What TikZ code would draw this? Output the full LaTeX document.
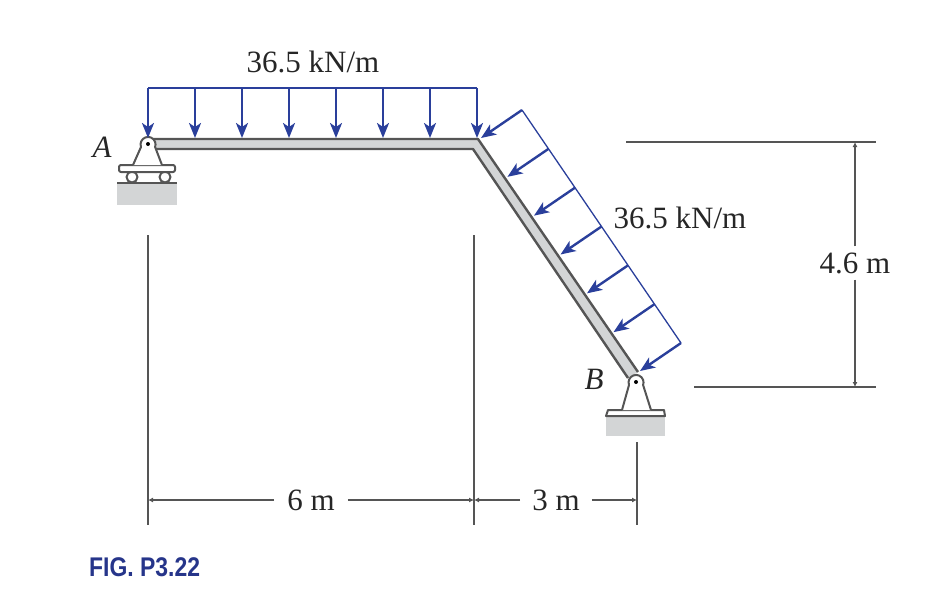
\documentclass[tikz,border=0pt]{standalone}
\usepackage{fontspec}
\setmainfont{Liberation Serif}
\newfontfamily\capfont{Liberation Sans}
\usetikzlibrary{arrows.meta,calc}
\definecolor{loadblue}{HTML}{2A3F9B}
\definecolor{beamgray}{HTML}{D3D5D6}
\definecolor{edgegray}{HTML}{555555}
\definecolor{captionblue}{HTML}{26358A}
\tikzset{
  lbl/.style={text=black!85, font=\fontsize{31}{34}\selectfont, inner sep=0pt},
  ptlbl/.style={lbl, font=\fontsize{31}{34}\selectfont\itshape},
  loadline/.style={draw=loadblue, line width=1.3pt},
  loadarrow/.style={draw=loadblue, line width=2.4pt, -{Stealth[length=15pt,width=12pt,inset=4pt]}},
  dimline/.style={draw=edgegray, line width=1.6pt},
  dimarrow/.style={dimline, -{Latex[length=5pt,width=5pt]}},
  partline/.style={draw=edgegray, line width=2pt, line join=round}
}
\begin{document}
\begin{tikzpicture}[x=1pt, y=-1pt]
    \useasboundingbox (0,0) rectangle (926,606);
    % Beam
    \fill[beamgray] (153,139) -- (478,139) -- (638,372) -- (628,378) -- (473,149) -- (153,149) -- cycle;
    \draw[edgegray, line width=2.4pt, line join=round] (153,139) -- (478,139) -- (638,372);
    \draw[edgegray, line width=2.4pt, line join=round] (153,149) -- (473,149) -- (628,378);
    % Support A
    \fill[beamgray] (117,183) rectangle (177,205);
    \draw[partline] (117,183) -- (177,183);
    \draw[partline, fill=white] (132,177) circle (5.5);
    \draw[partline, fill=white] (165,177) circle (5.5);
    \draw[partline, fill=white, rounded corners=2pt] (119,165) rectangle (175,172);
    \draw[partline, fill=white] (133,165) -- (141,147) arc[start angle=160, end angle=380, radius=7.5] -- (162,165);
    \fill[black] (148,144) circle (2);
    % Support B
    \fill[beamgray] (606,416) rectangle (665,436);
    \draw[partline, fill=white] (606,416) -- (608,410) -- (664,410) -- (665,416) -- cycle;
    \draw[partline, fill=white] (622,410) -- (629,385) arc[start angle=160, end angle=380, radius=7.5] -- (651,410);
    \fill[black] (636,382) circle (2);
    % Labels
    \node[ptlbl] (ptA) at (102,147) {A};
    \node[ptlbl] (ptB) at (594,379) {B};
    \node[lbl] (loadtop) at (313,62) {36.5 kN/m};
    \node[lbl] (loadside) at (680,218) {36.5 kN/m};
    \node[anchor=west, inner sep=0pt, text=captionblue, xscale=.85, font=\capfont\bfseries\fontsize{27}{30}\selectfont] (figcap) at (89,567) {FIG. P3.22};
    % Load on horizontal part
    \coordinate (t0) at (148,88);
    \coordinate (t7) at (477,88);
    \draw[loadline, line width=2pt] (t0) -- (t7);
    \foreach \i in {0,...,7} {
      \coordinate (h\i) at ($(t0)!\i/7!(t7)$);
      \draw[loadarrow] (h\i) -- ++(0,50);
    }
    % Load on slanted part
    \coordinate (s0) at (522,110);
    \coordinate (s6) at (681,343);
    \draw[loadline] (s0) -- (s6);
    \foreach \i in {0,...,6} {
      \coordinate (d\i) at ($(s0)!\i/6!(s6)$);
      \draw[loadarrow] (d\i) -- ++(-41,28);
    }
    % Extension lines
    \coordinate (e1) at (148,235); \coordinate (e1b) at (148,525);
    \coordinate (e2) at (474,235); \coordinate (e2b) at (474,525);
    \coordinate (e3) at (637,442); \coordinate (e3b) at (637,525);
    \coordinate (e4) at (626,142); \coordinate (e4b) at (876,142);
    \coordinate (e5) at (694,387); \coordinate (e5b) at (876,387);
    \draw[dimline] (e1) -- (e1b);
    \draw[dimline] (e2) -- (e2b);
    \draw[dimline] (e3) -- (e3b);
    \draw[dimline] (e4) -- (e4b);
    \draw[dimline] (e5) -- (e5b);
    % Dimensions
    \node[lbl, inner xsep=13pt] (dim6) at (311,500) {6 m};
    \node[lbl, inner xsep=12pt] (dim3) at (556,500) {3 m};
    \node[lbl, inner ysep=6pt] (dim46) at (855,263) {4.6 m};
    \draw[dimarrow] (dim6.west) -- (dim6 -| e1);
    \draw[dimarrow] (dim6.east) -- (dim6 -| e2);
    \draw[dimarrow] (dim3.west) -- (dim3 -| e2);
    \draw[dimarrow] (dim3.east) -- (dim3 -| e3);
    \draw[dimarrow] (dim46.north) -- (dim46 |- e4);
    \draw[dimarrow] (dim46.south) -- (dim46 |- e5);
\end{tikzpicture}
\end{document}
